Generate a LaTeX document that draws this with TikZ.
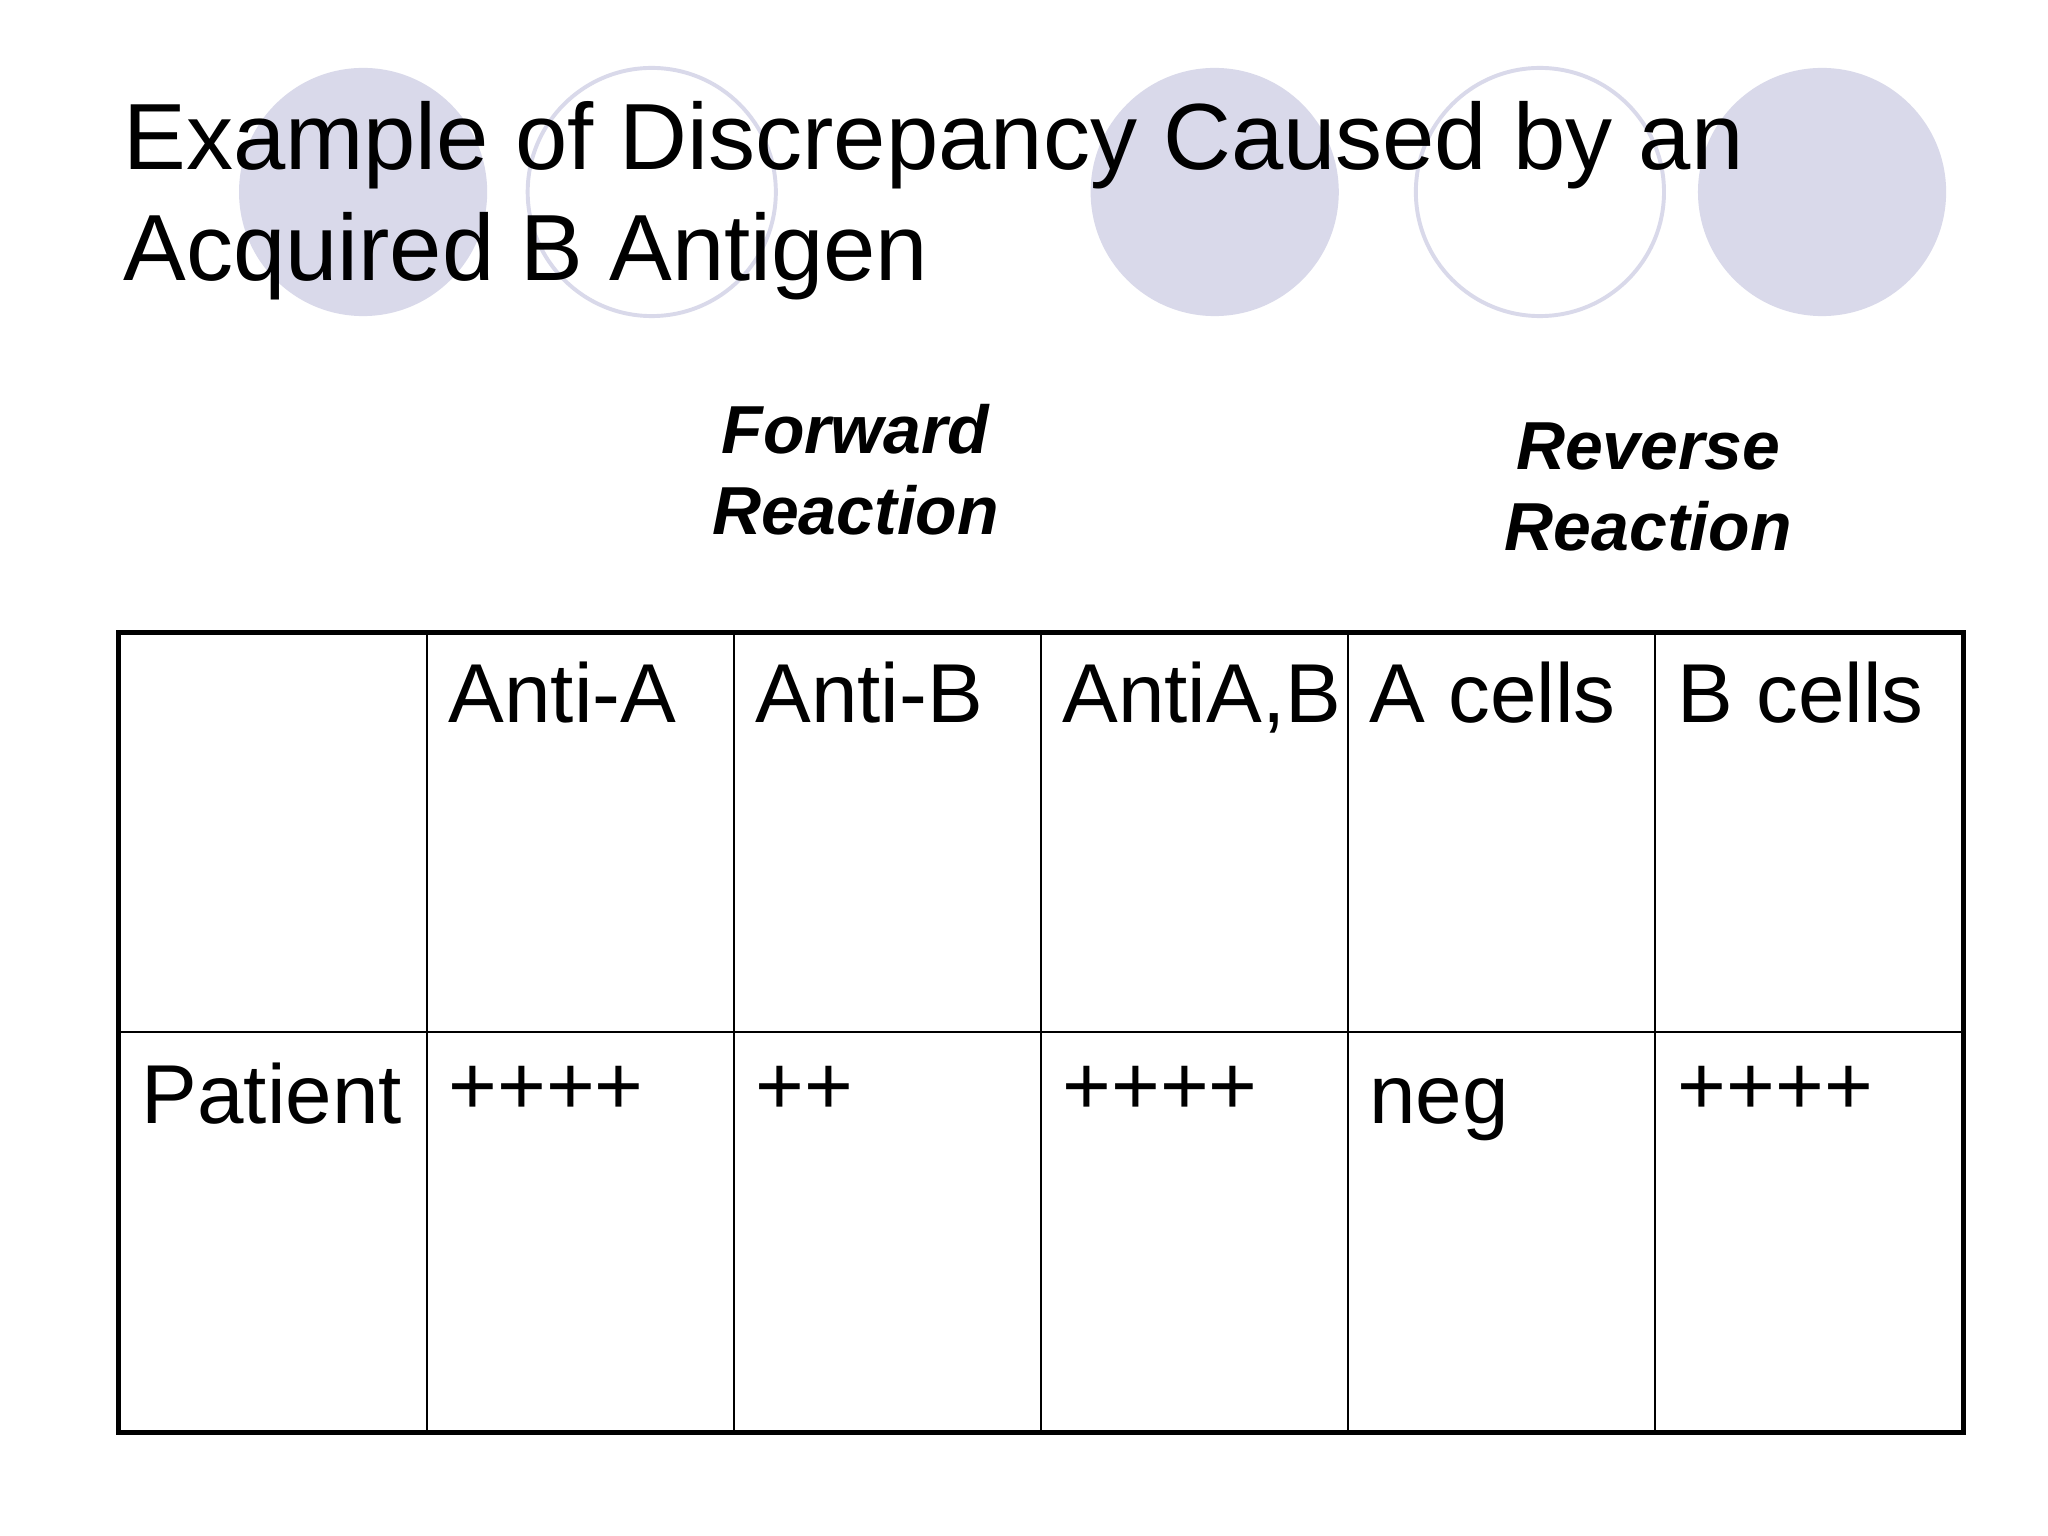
\documentclass[tikz,border=0pt]{standalone}
\usepackage{fontspec}
\setmainfont{Liberation Sans}
\definecolor{lav}{HTML}{D9D9EA}
\begin{document}
\begin{tikzpicture}[x=0.5pt,y=-0.5pt,
  fillc/.style={fill=lav,draw=none},
  ringc/.style={draw=lav,line width=1.5pt},
  title/.style={font=\fontsize{36}{43}\selectfont,anchor=base west,inner sep=0},
  hdr/.style={font=\fontsize{26}{31}\selectfont\bfseries\itshape,align=center,inner sep=0},
  cell/.style={font=\fontsize{32}{38}\selectfont,anchor=base west,inner sep=0}]
\useasboundingbox (0,0) rectangle (1568,1176);
\fill[white] (0,0) rectangle (1568,1176);
\foreach \cx in {278,930,1395} \path[fillc] (\cx,147) circle (95);
\foreach \cx in {499,1179} \draw[ringc] (\cx,147) circle (95);
\node[title] (t1) at (94,130) {Example of Discrepancy Caused by an};
\node[title] (t2) at (94,215) {Acquired B Antigen};
\node[hdr] (fw) at (655,360) {Forward\\Reaction};
\node[hdr] (rv) at (1262,373) {Reverse\\Reaction};
\foreach \x in {327,562,797,1032,1267} \draw[line width=1pt] (\x,484) -- (\x,1097);
\draw[line width=1pt] (91,790) -- (1503,790);
\draw[line width=2pt] (91,484) rectangle (1503,1097);
\node[cell] (h1) at (343,553) {Anti-A};
\node[cell] (h2) at (578,553) {Anti-B};
\node[cell] (h3) at (813,553) {AntiA,B};
\node[cell] (h4) at (1048,553) {A cells};
\node[cell] (h5) at (1284,553) {B cells};
\node[cell] (p0) at (108,860) {Patient};
\node[cell] (p1) at (343,853) {++++};
\node[cell] (p2) at (578,853) {++};
\node[cell] (p3) at (813,853) {++++};
\node[cell] (p4) at (1048,860) {neg};
\node[cell] (p5) at (1284,853) {++++};
\end{tikzpicture}
\end{document}
